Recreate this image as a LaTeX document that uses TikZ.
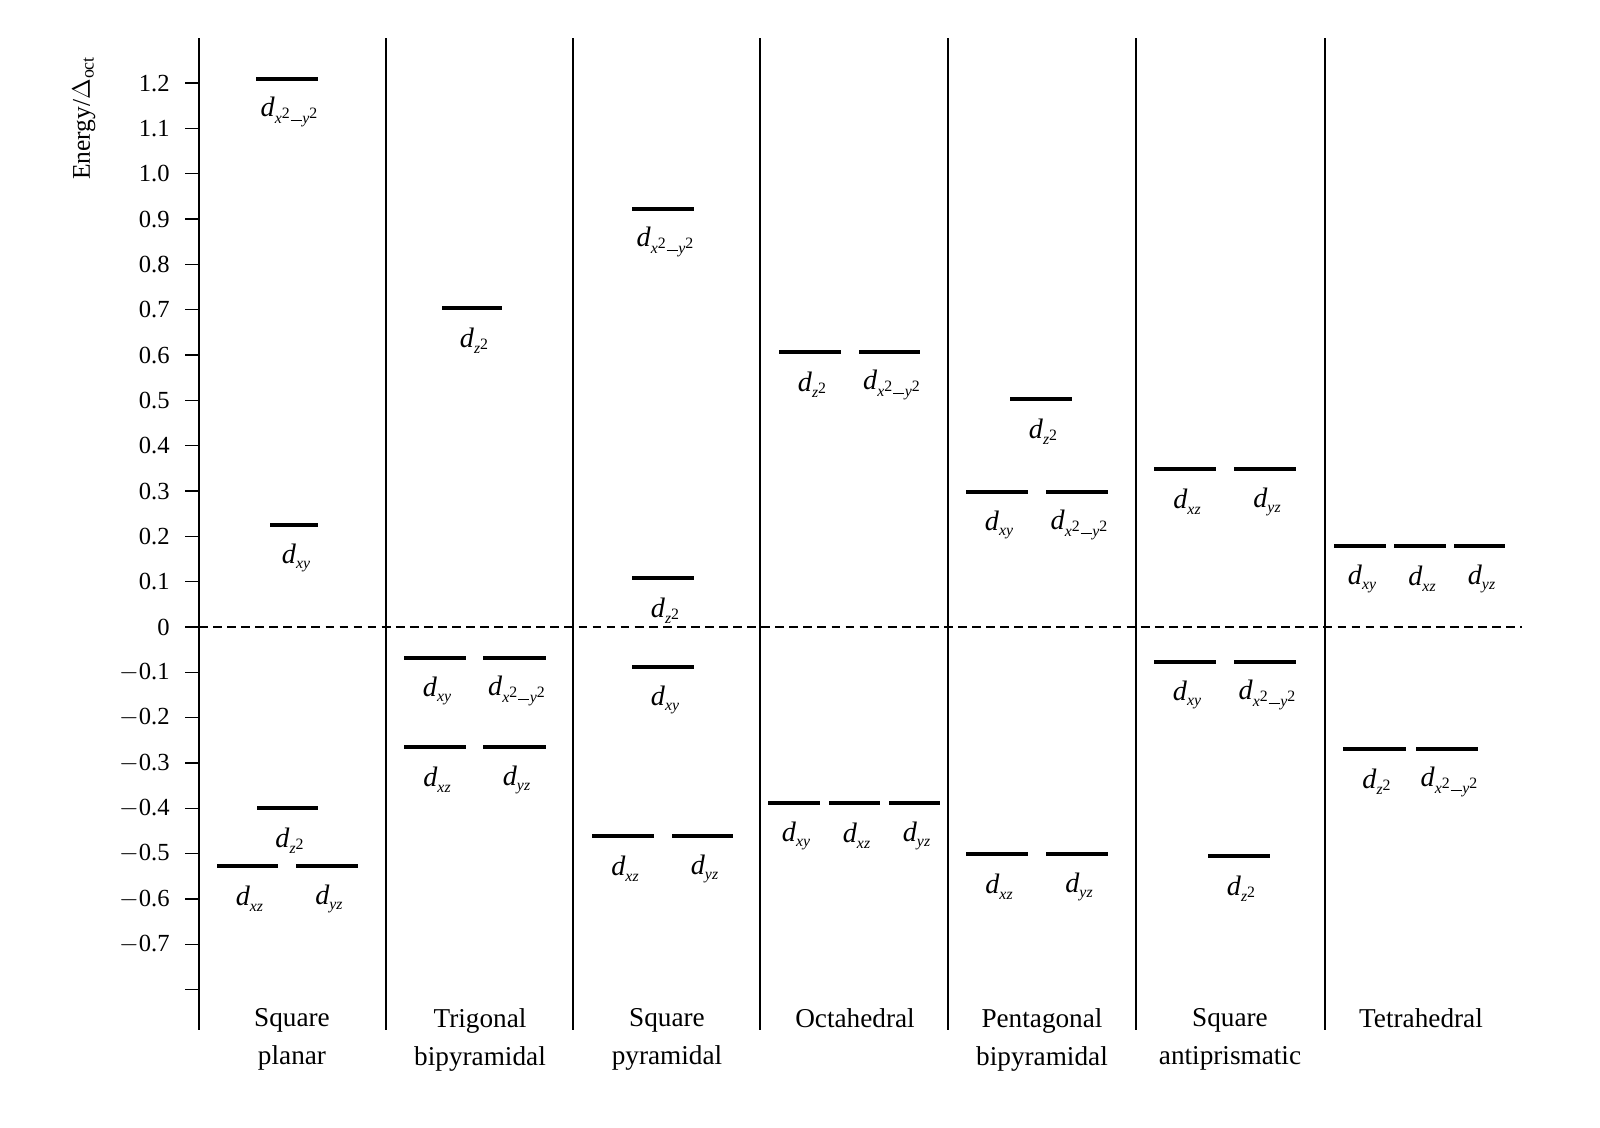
\documentclass[tikz,border=0pt]{standalone}
\usepackage{fontspec}
\setmainfont{Liberation Serif}
\newcommand\sbx[1]{\raisebox{-0.45ex}{\small\itshape #1}}
\newcommand\dsub[1]{\textit{d}\sbx{#1}}
\newcommand\dxy{\textit{d}\raisebox{-0.5ex}{\small\itshape x\raisebox{0.6ex}{\upshape 2}\kern0.05em\rule[0.35ex]{0.7em}{0.6pt}\kern0.05em y\raisebox{0.6ex}{\upshape 2}}}
\newcommand\dzz{\textit{d}\raisebox{-0.5ex}{\small\itshape z\raisebox{0.6ex}{\upshape 2}}}
\tikzset{level/.style={line width=2.3pt},
  axis/.style={line width=0.7pt},
  lab/.style={font=\fontsize{16}{18}\selectfont, inner sep=0pt},
  tick/.style={font=\fontsize{14}{16}\selectfont, anchor=east, inner sep=0pt},
  cat/.style={font=\fontsize{15.5}{21.5}\selectfont, align=center, anchor=north, inner sep=0pt}}
\newcommand\lev[4]{\draw[level] (#1,#3) -- (#2,#3);
  \node[lab] at ({(#1+#2)/2+2},#3+33) {#4};}
\begin{document}
\begin{tikzpicture}[x=0.02cm,y=-0.02cm]
\useasboundingbox (0,0) rectangle (1600,1127);
% axis
\draw[axis] (199,38) -- (199,1030);
\foreach \v/\t in {12/1.2,11/1.1,10/1.0,9/0.9,8/0.8,7/0.7,6/0.6,5/0.5,4/0.4,3/0.3,2/0.2,1/0.1,0/0,-1/$-$0.1,-2/$-$0.2,-3/$-$0.3,-4/$-$0.4,-5/$-$0.5,-6/$-$0.6,-7/$-$0.7}{
  \draw[axis] (185,{627-45.33*\v}) -- (199,{627-45.33*\v});
  \node[tick] at (170,{627-45.33*\v}) {\t};}
\draw[axis] (185,{627+45.33*8}) -- (199,{627+45.33*8});
\node[rotate=90, font=\fontsize{14.5}{16}\selectfont] (ylab) at (84,118) {Energy/$\Delta_{\mathrm{oct}}$};
% separators
\foreach \x in {386,573,760,948,1136,1325} \draw[axis] (\x,38) -- (\x,1030);
\draw[axis, dashed, dash pattern=on 5pt off 3pt] (199,627) -- (1522,627);
% categories
\node[cat] (c1) at (292,1008) {Square\\planar};
\node[cat] (c2) at (480,1008) {Trigonal\\bipyramidal};
\node[cat] (c3) at (667,1008) {Square\\pyramidal};
\node[cat] (c4) at (855,1008) {Octahedral};
\node[cat] (c5) at (1042,1008) {Pentagonal\\bipyramidal};
\node[cat] (c6) at (1230,1008) {Square\\antiprismatic};
\node[cat] (c7) at (1421,1008) {Tetrahedral};
% square planar
\lev{256}{318}{79}{\dxy}
\lev{270}{318}{525}{\dsub{xy}}
\lev{257}{318}{808}{\dzz}
\lev{217}{278}{866}{\dsub{xz}}
\lev{296}{358}{866}{\dsub{yz}}
% trigonal bipyramidal
\lev{442}{502}{308}{\dzz}
\lev{404}{466}{658}{\dsub{xy}}
\lev{483}{546}{658}{\dxy}
\lev{404}{466}{747}{\dsub{xz}}
\lev{483}{546}{747}{\dsub{yz}}
% square pyramidal
\lev{632}{694}{209}{\dxy}
\lev{632}{694}{578}{\dzz}
\lev{632}{694}{667}{\dsub{xy}}
\lev{592}{654}{836}{\dsub{xz}}
\lev{672}{733}{836}{\dsub{yz}}
% octahedral
\lev{779}{841}{352}{\dzz}
\lev{859}{920}{352}{\dxy}
\lev{768}{820}{803}{\dsub{xy}}
\lev{829}{880}{803}{\dsub{xz}}
\lev{889}{940}{803}{\dsub{yz}}
% pentagonal bipyramidal
\lev{1010}{1072}{399}{\dzz}
\lev{966}{1028}{492}{\dsub{xy}}
\lev{1046}{1108}{492}{\dxy}
\lev{966}{1028}{854}{\dsub{xz}}
\lev{1046}{1108}{854}{\dsub{yz}}
% square antiprismatic
\lev{1154}{1216}{469}{\dsub{xz}}
\lev{1234}{1296}{469}{\dsub{yz}}
\lev{1154}{1216}{662}{\dsub{xy}}
\lev{1234}{1296}{662}{\dxy}
\lev{1208}{1270}{856}{\dzz}
% tetrahedral
\lev{1334}{1386}{546}{\dsub{xy}}
\lev{1394}{1446}{546}{\dsub{xz}}
\lev{1454}{1505}{546}{\dsub{yz}}
\lev{1343}{1406}{749}{\dzz}
\lev{1416}{1478}{749}{\dxy}
\end{tikzpicture}
\end{document}
